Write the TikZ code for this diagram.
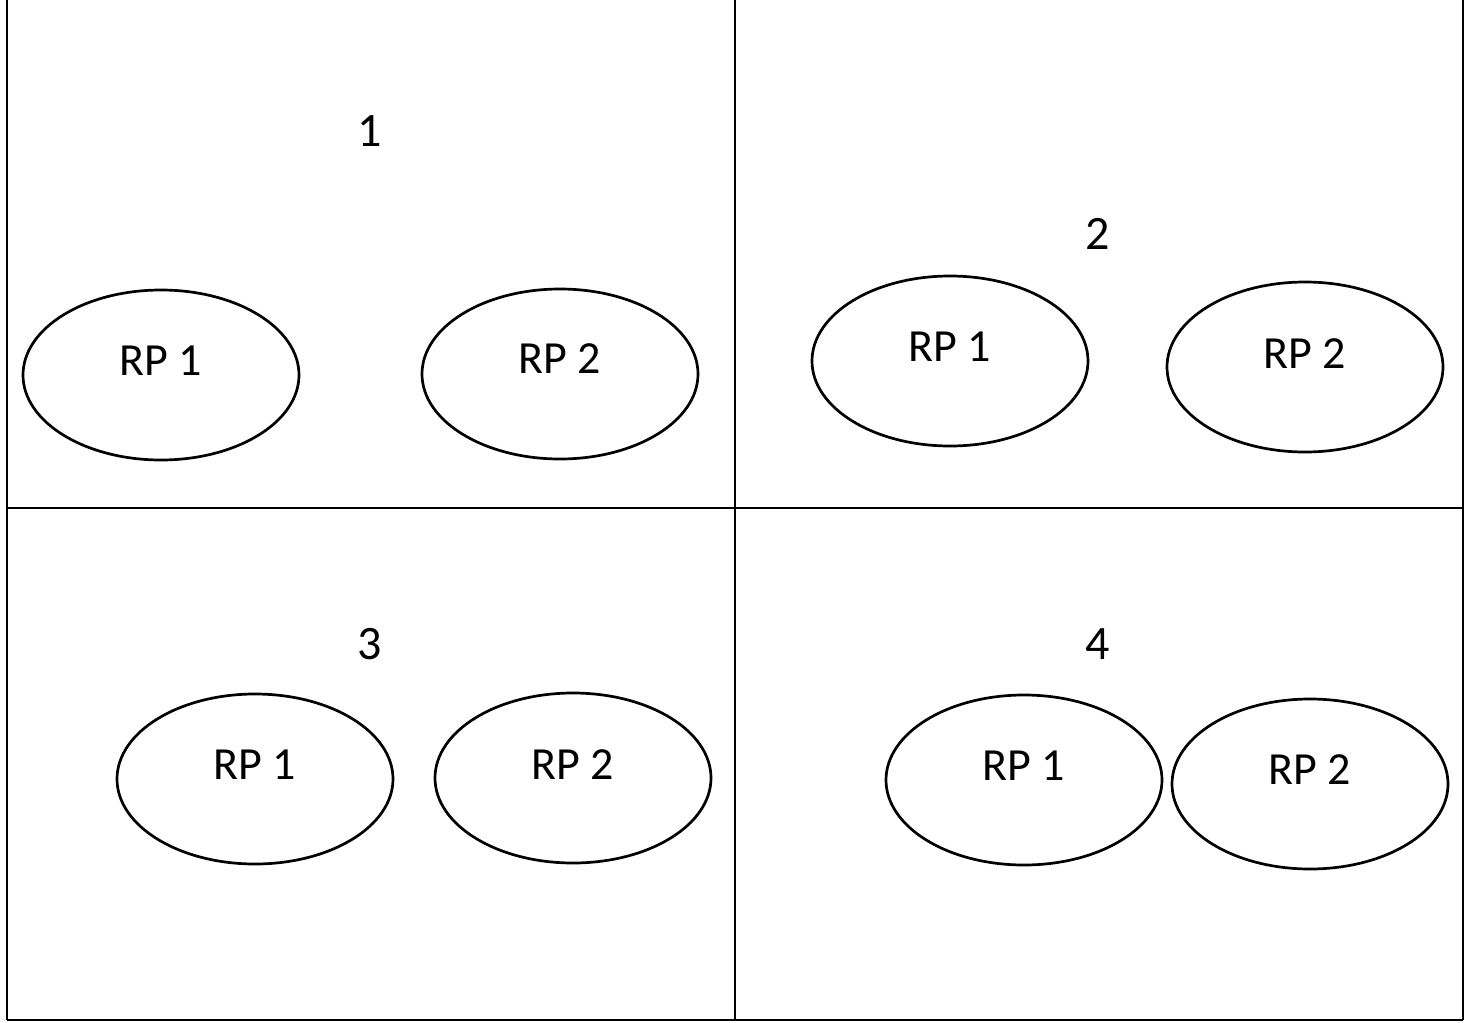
\documentclass[tikz,border=0pt]{standalone}
\usepackage{fontspec}
\setmainfont{Carlito}
\usetikzlibrary{shapes.geometric}
\begin{document}
\begin{tikzpicture}[x=1pt,y=-1pt,
  rp/.style={draw,line width=2.7pt,ellipse,minimum width=276pt,minimum height=170pt,inner sep=0pt},
  rptext/.style={anchor=base,font=\fontsize{46}{50}\selectfont,inner sep=0pt},
  numlabel/.style={anchor=base,font=\fontsize{48}{52}\selectfont,inner sep=0pt},
  gridline/.style={line width=1.6pt}]
\useasboundingbox (0,0) rectangle (1484,1023);
% grid
\coordinate (tl) at (7,0);
\coordinate (bl) at (7,1020);
\coordinate (tm) at (735,0);
\coordinate (bm) at (735,1020);
\coordinate (tr) at (1463,0);
\coordinate (br) at (1463,1020);
\coordinate (ml) at (7,508);
\coordinate (mr) at (1463,508);
\draw[gridline] (tl) -- (bl);
\draw[gridline] (tm) -- (bm);
\draw[gridline] (tr) -- (br);
\draw[gridline] (ml) -- (mr);
\draw[gridline] (bl) -- (br);
% panel 1
\node[rp] (p1a) at (161,375) {};
\node[rp] (p1b) at (560,374) {};
\node[rptext] (t1a) at (161,375) {RP 1};
\node[rptext] (t1b) at (560,373) {RP 2};
\node[numlabel] (n1) at (370,146) {1};
% panel 2
\node[rp] (p2a) at (950,361) {};
\node[rp] (p2b) at (1305,367) {};
\node[rptext] (t2a) at (950,361) {RP 1};
\node[rptext] (t2b) at (1305,368) {RP 2};
\node[numlabel] (n2) at (1098,249) {2};
% panel 3
\node[rp] (p3a) at (255,779) {};
\node[rp] (p3b) at (573,778) {};
\node[rptext] (t3a) at (255,779) {RP 1};
\node[rptext] (t3b) at (573,779) {RP 2};
\node[numlabel] (n3) at (370,659) {3};
% panel 4
\node[rp] (p4a) at (1024,780) {};
\node[rp] (p4b) at (1310,784) {};
\node[rptext] (t4a) at (1024,780) {RP 1};
\node[rptext] (t4b) at (1310,784) {RP 2};
\node[numlabel] (n4) at (1098,659) {4};
\end{tikzpicture}
\end{document}
